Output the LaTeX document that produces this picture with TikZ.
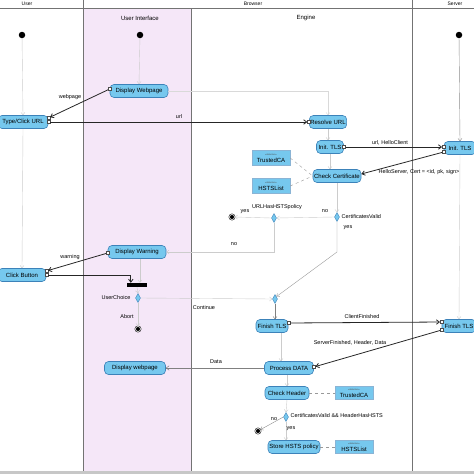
\documentclass[tikz,border=0pt]{standalone}
\usepackage{fontspec}
\setmainfont{Liberation Sans}
\usetikzlibrary{arrows.meta, shapes.geometric}

\definecolor{actfill}{RGB}{118,200,238}
\definecolor{actline}{RGB}{60,130,185}
\definecolor{lanepink}{RGB}{245,231,248}
\newcommand{\stereotag}{{\fontsize{2.2}{2.6}\selectfont\color{black!70}«datastore»}}

\begin{document}
\begin{tikzpicture}[x=1pt, y=-1pt,
		font=\fontsize{6}{7}\selectfont,
		action/.style={draw=actline, fill=actfill, rounded corners=4pt, minimum height=13pt, inner xsep=1pt, inner ysep=0pt, line width=0.6pt},
		store/.style={draw=actline!60, fill=actfill, minimum width=38pt, minimum height=15pt, inner sep=0pt, align=center},
		pinsq/.style={draw=black!70, fill=white, minimum size=3pt, inner sep=0pt, line width=0.4pt},
		decide/.style={diamond, draw=actline, fill=actfill, minimum width=5pt, minimum height=9pt, inner sep=0pt, line width=0.4pt},
		start/.style={circle, fill=black, minimum size=6.5pt, inner sep=0pt},
		stop/.style={circle, fill=black, draw=black, double=white, double distance=0.6pt, line width=0.5pt, minimum size=5pt, inner sep=0pt},
		msg/.style={-{Straight Barb[length=3pt, width=4.5pt]}, line width=0.8pt, black!85},
		ctrl/.style={-{Straight Barb[length=2.5pt, width=4pt]}, black!20, line width=0.4pt},
		dep/.style={dashed, black!40, line width=0.4pt},
		lbl/.style={font=\fontsize{5.5}{6}\selectfont, inner sep=0.5pt}
	]
		\useasboundingbox (0,0) rectangle (474,474);
	
		\fill[lanepink] (83,8) rectangle (191,471);
		\draw[black!55, line width=0.5pt] (0,8) -- (474,8);
		\draw[black!55, line width=0.5pt] (83,0) -- (83,471);
		\draw[black!55, line width=0.5pt] (191,8) -- (191,471);
		\draw[black!55, line width=0.5pt] (412,0) -- (412,471);
		\fill[black!22] (0,471) rectangle (474,474);
	
		\node[font=\fontsize{5}{6}\selectfont] (hUser) at (27,4) {User};
		\node[font=\fontsize{5}{6}\selectfont] (hBrowser) at (253,4) {Browser};
		\node[font=\fontsize{5}{6}\selectfont] (hServer) at (455,4) {Server};
		\node (hUI) at (140,18) {User Interface};
		\node (hEngine) at (306,18) {Engine};
	
		\node[start] (startU) at (22,35) {};
		\node[start] (startUI) at (140,35) {};
		\node[start] (startS) at (459,35) {};
	
		\node[action, minimum width=58pt] (dispweb) at (139,91) {Display Webpage};
		\node[action, minimum width=50pt] (typeurl) at (23,122) {Type/Click URL};
		\node[action, minimum width=37pt] (resolve) at (328,122) {Resolve URL};
		\node[action, minimum width=27pt] (inittls) at (330,147) {Init. TLS};
		\node[action, minimum width=32pt] (srvinit) at (460,148) {Init. TLS};
		\node[action, minimum width=48pt] (checkcert) at (337,176) {Check Certificate};
		\node[store] (trustA) at (271,158) {\stereotag\\TrustedCA};
		\node[store] (hstsA) at (271,186) {\stereotag\\HSTSList};
	
		\node[decide] (dCert) at (337,217) {};
		\node[decide] (dHsts) at (274,218) {};
		\node[stop] (stop1) at (232,217) {};
	
		\node[action, minimum width=58pt] (dispwarn) at (137,252) {Display Warning};
		\node[action, minimum width=48pt] (clickbtn) at (22,275) {Click Button};
		\node[fill=black, minimum width=20pt, minimum height=4pt, inner sep=0pt] (fork) at (137,285) {};
		\node[decide] (dChoice) at (138,298) {};
		\node[stop] (stopAbort) at (138,329) {};
		\node[decide] (dMerge) at (275,299) {};
	
		\node[action, minimum width=32pt] (finishA) at (272,326) {Finish TLS};
		\node[action, minimum width=34pt] (finishB) at (459,326) {Finish TLS};
		\node[action, minimum width=49pt] (procdata) at (289,368) {Process DATA};
		\node[action, minimum width=61pt] (dispweb2) at (135,368) {Display webpage};
		\node[action, minimum width=44pt] (checkhdr) at (287,393) {Check Header};
		\node[store, minimum height=13pt] (trustB) at (354,393) {\stereotag\\TrustedCA};
		\node[decide] (dHdr) at (286,417) {};
		\node[stop] (stop3) at (258,431) {};
		\node[action, minimum width=52pt] (storehsts) at (294,447) {Store HSTS policy};
		\node[store, minimum height=13pt] (hstsB) at (354,447) {\stereotag\\HSTSList};
	
		\node[pinsq] (pWebOut) at ([yshift=2pt]dispweb.west) {};
		\node[pinsq] (pUrlIn) at ([yshift=4pt]typeurl.east) {};
		\node[pinsq] (pUrlOut) at (typeurl.east) {};
		\node[pinsq] (pResIn) at (resolve.west) {};
		\node[pinsq] (pTlsOut) at (inittls.east) {};
		\node[pinsq] (pSrvIn) at ([yshift=1pt]srvinit.west) {};
		\node[pinsq] (pSrvOut) at ([yshift=-4pt]srvinit.west) {};
		\node[pinsq] (pWarnOut) at ([yshift=-1pt]dispwarn.west) {};
		\node[pinsq] (pBtnIn) at ([yshift=4pt]clickbtn.east) {};
		\node[pinsq] (pBtnOut) at (clickbtn.east) {};
		\node[pinsq] (pFinOut) at ([yshift=3pt]finishA.east) {};
		\node[pinsq] (pFinIn) at ([yshift=4pt]finishB.west) {};
		\node[pinsq] (pFinOut2) at ([yshift=-4pt]finishB.west) {};
		\node[pinsq] (pDataIn) at ([yshift=1pt]procdata.east) {};
	
		\coordinate (bend) at (337,252);
	
		\begin{scope}[ctrl]
			\draw (startU) -- (typeurl.north);
			\draw (startUI) -- (dispweb.north);
			\draw[black!45] (startS) -- (srvinit.north);
			\draw[black!15] (dispweb.east) -| (resolve.north);
			\draw (typeurl.south) -- (clickbtn.north);
			\draw (resolve.south) -- (resolve.south |- inittls.north);
			\draw (inittls.south) -- (inittls.south |- checkcert.north);
			\draw (checkcert.south) -- (dCert.north);
			\draw (dCert.west) -- (dHsts.east);
			\draw (dHsts.west) -- (stop1.east);
			\draw (dHsts.south) |- (dispwarn.east);
			\draw[black!40] (dCert.south) -- (bend) -- (dMerge.north east);
			\draw ([xshift=3pt]dispwarn.south) -- ([xshift=3pt]fork.north);
			\draw (fork.south) -- (dChoice.north);
			\draw (dChoice.south) -- (stopAbort.north);
			\draw (dChoice.east) -- (dMerge.west);
			\draw[black!50] (dMerge.south) -- (dMerge |- finishA.north);
			\draw (srvinit.south) -- (finishB.north);
			\draw ([xshift=9pt]finishA.south) -- ([xshift=-8pt]procdata.north);
			\draw (checkhdr.north |- procdata.south) -- (checkhdr.north);
			\draw (checkhdr.south) -- (dHdr.north);
			\draw (dHdr.south) -- (dHdr |- storehsts.north);
			\draw[black!45] (dHdr.west) -- (stop3);
		\end{scope}
	
		\begin{scope}[dep]
			\draw (trustA.east) -- (checkcert.west);
			\draw (hstsA.east) -- (checkcert.west);
			\draw (checkhdr.east) -- (trustB.west);
			\draw (storehsts.east) -- (hstsB.west);
		\end{scope}
	
		\begin{scope}[msg]
			\draw (pWebOut) -- (pUrlIn);
			\draw (pUrlOut) -- (pResIn);
			\draw (pTlsOut) -- (pSrvIn);
			\draw (pSrvOut) -- ([yshift=2pt]checkcert.east);
			\draw (pWarnOut) -- (pBtnIn);
			\draw (pBtnOut) -| ([xshift=4pt]fork.north west);
			\draw (pFinOut) -- (pFinIn);
			\draw (pFinOut2) -- (pDataIn);
			\draw[black!50, line width=0.5pt] (procdata.west) -- (dispweb2.east);
		\end{scope}
	
		\node[lbl] (lWebpage) at (70,97) {webpage};
		\node[lbl] (lUrl) at (179,117) {url};
		\node[lbl] (lHello) at (390,143) {url, HelloClient};
		\node[lbl] (lCert) at (419,172) {HelloServer, Cert = <id, pk, sign>};
		\node[lbl] (lWarning) at (70,257) {warning};
		\node[lbl] (lHstsPol) at (277,207) {URLHasHSTSpolicy};
		\node[lbl, anchor=west] (lCertValid) at (341,217) {CertificatesValid};
		\node[lbl] (lYes1) at (245,212) {yes};
		\node[lbl] (lNo1) at (325,211) {no};
		\node[lbl] (lYes2) at (348,228) {yes};
		\node[lbl] (lNo2) at (234,244) {no};
		\node[lbl] (lChoice) at (116,298) {UserChoice};
		\node[lbl] (lAbort) at (127,317) {Abort};
		\node[lbl] (lContinue) at (204,308) {Continue};
		\node[lbl] (lClientFin) at (362,317) {ClientFinished};
		\node[lbl] (lServerFin) at (350,343) {ServerFinished, Header, Data};
		\node[lbl] (lData) at (216,362) {Data};
		\node[lbl, anchor=west] (lHdrCond) at (290,416) {CertificatesValid \&\& HeaderHasHSTS};
		\node[lbl] (lNo3) at (274,419) {no};
		\node[lbl] (lYes3) at (291,429) {yes};
	\end{tikzpicture}
\end{document}
